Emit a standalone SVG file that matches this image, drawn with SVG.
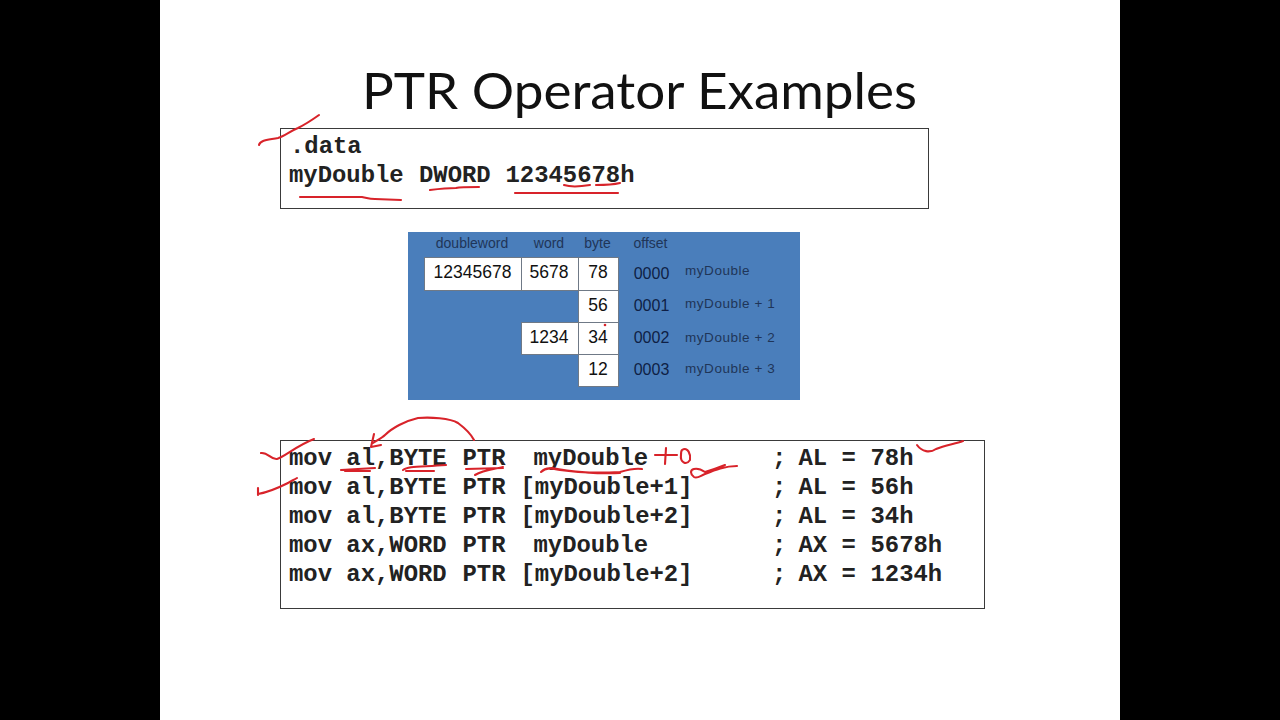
<svg xmlns="http://www.w3.org/2000/svg" width="1280" height="720" viewBox="0 0 1280 720">
<style>
.code{font-family:"Liberation Mono",monospace;font-weight:bold;font-size:23.9px;fill:#222;white-space:pre}
.box{fill:#fff;stroke:#3a3a3a;stroke-width:1}
.hd{font-family:"Liberation Sans",sans-serif;font-size:14px;fill:#1f3558;text-anchor:middle}
.cell{fill:#fff;stroke:#6f7986;stroke-width:1}
.val{font-family:"Liberation Sans",sans-serif;font-size:17.5px;fill:#111;text-anchor:middle}
.off{font-family:"Liberation Sans",sans-serif;font-size:16px;fill:#0f1f45;text-anchor:middle}
.lbl{font-family:"Liberation Sans",sans-serif;font-size:13.5px;fill:#1f3558;letter-spacing:.55px}
.ink{fill:none;stroke:#d8232a;stroke-width:2.1;stroke-linecap:round;stroke-linejoin:round}
</style>
<rect width="1280" height="720" fill="#fff"/>
<rect x="0" y="0" width="160" height="720" fill="#000"/>
<rect x="1120" y="0" width="160" height="720" fill="#000"/>
<text id="title" x="362" y="109" font-family="Lato,'Open Sans',sans-serif" font-size="50" fill="#111" textLength="555" lengthAdjust="spacingAndGlyphs">PTR Operator Examples</text>
<g id="data-box">
<rect class="box" x="280.500" y="128.500" width="648" height="80"/>
<text class="code" x="290" y="153">.data</text>
<text class="code" x="289" y="182">myDouble <tspan x="419">DWORD</tspan> <tspan x="505.500">12345678h</tspan></text>
</g>
<g id="memory-table">
<rect x="408" y="232" width="392" height="168" fill="#4a7ebb"/>
<text class="hd" x="472" y="248">doubleword</text>
<text class="hd" x="549" y="248">word</text>
<text class="hd" x="597.500" y="248">byte</text>
<text class="hd" x="650.500" y="248">offset</text>
<rect class="cell" x="424.500" y="257.500" width="97" height="33"/>
<rect class="cell" x="521.500" y="257.500" width="57" height="33"/>
<rect class="cell" x="578.500" y="257.500" width="40" height="33"/>
<rect class="cell" x="578.500" y="290.500" width="40" height="32"/>
<rect class="cell" x="521.500" y="322.500" width="57" height="32"/>
<rect class="cell" x="578.500" y="322.500" width="40" height="32"/>
<rect class="cell" x="578.500" y="354.500" width="40" height="32"/>
<text class="val" x="472.500" y="278">12345678</text>
<text class="val" x="549" y="278">5678</text>
<text class="val" x="598" y="278">78</text>
<text class="val" x="598" y="311">56</text>
<text class="val" x="549" y="343">1234</text>
<text class="val" x="598" y="343">34</text>
<text class="val" x="598" y="375">12</text>
<text class="off" x="651.500" y="279">0000</text>
<text class="off" x="651.500" y="311">0001</text>
<text class="off" x="651.500" y="343">0002</text>
<text class="off" x="651.500" y="375">0003</text>
<text class="lbl" x="685" y="275">myDouble</text>
<text class="lbl" x="685" y="308">myDouble + 1</text>
<text class="lbl" x="685" y="342">myDouble + 2</text>
<text class="lbl" x="685" y="373">myDouble + 3</text>
</g>
<g id="code-box">
<rect class="box" x="280.500" y="440.500" width="704" height="168"/>
<text class="code" x="289" y="465">mov al,BYTE <tspan x="462.500">PTR</tspan>  <tspan x="533.500">myDouble</tspan></text>
<text class="code" x="772" y="465">; <tspan x="798.500">AL</tspan> = <tspan x="870.500">78h</tspan></text>
<text class="code" x="289" y="494">mov al,BYTE <tspan x="462.500">PTR</tspan> <tspan x="520.500">[myDouble+1]</tspan></text>
<text class="code" x="772" y="494">; <tspan x="798.500">AL</tspan> = <tspan x="870.500">56h</tspan></text>
<text class="code" x="289" y="523">mov al,BYTE <tspan x="462.500">PTR</tspan> <tspan x="520.500">[myDouble+2]</tspan></text>
<text class="code" x="772" y="523">; <tspan x="798.500">AL</tspan> = <tspan x="870.500">34h</tspan></text>
<text class="code" x="289" y="552">mov ax,WORD <tspan x="462.500">PTR</tspan>  <tspan x="533.500">myDouble</tspan></text>
<text class="code" x="772" y="552">; <tspan x="798.500">AX</tspan> = <tspan x="870.500">5678h</tspan></text>
<text class="code" x="289" y="581">mov ax,WORD <tspan x="462.500">PTR</tspan> <tspan x="520.500">[myDouble+2]</tspan></text>
<text class="code" x="772" y="581">; <tspan x="798.500">AX</tspan> = <tspan x="870.500">1234h</tspan></text>
</g>
<g id="connectors">
<path class="ink" d="M259 145C260 140 268 140 278 138C285 136 290 131 298 128C306 124 312 120 319 115"/>
<path class="ink" d="M300 197L362 197C368 198 368 199 375 199L401 200"/>
<path class="ink" d="M430 190C438 189 448 188 456 188C460 187 464 187 479 187"/>
<path class="ink" d="M515 193L618 193"/>
<path class="ink" d="M564 185C570 187 578 187 590 185M596 185C604 185 612 185 620 183"/>
<path class="ink" d="M261 453C268 452 271 460 277 459C284 457 296 446 314 439"/>
<path class="ink" d="M258 495L258 488M258 494C270 492 278 488 288 483C290 481 294 480 297 478"/>
<path class="ink" d="M341 470L375 468M345 471L370 471"/>
<path class="ink" d="M403 470C408 466 420 467 446 465M406 471L434 471"/>
<path class="ink" d="M466 469L503 468M475 475C483 470 495 469 503 467"/>
<path class="ink" d="M541 472C546 467 552 468 560 470C580 473 600 473 620 472C630 469 636 468 642 469M552 468C570 472 600 474 620 473"/>
<path class="ink" d="M474 440C470 432 462 426 458 423C450 418 430 417 418 418C405 421 392 428 385 435C382 438 376 441 373 443M374 434L371 447L381 445"/>
<path class="ink" d="M655 455L677 455M666 448L665 464"/>
<path class="ink" d="M682 450C688 446 691 455 690 460C686 466 680 462 681 455C681 452 681 451 682 450"/>
<path class="ink" d="M737 466C725 466 715 470 705 474C700 476 697 479 694 477C690 474 690 470 694 469C698 468 702 470 705 472C712 470 720 467 725 465"/>
<path class="ink" d="M917 445C922 452 930 453 936 449C945 445 955 444 963 441"/>
<circle cx="605" cy="325" r="1.300" fill="#d8232a"/>
</g>
</svg>
